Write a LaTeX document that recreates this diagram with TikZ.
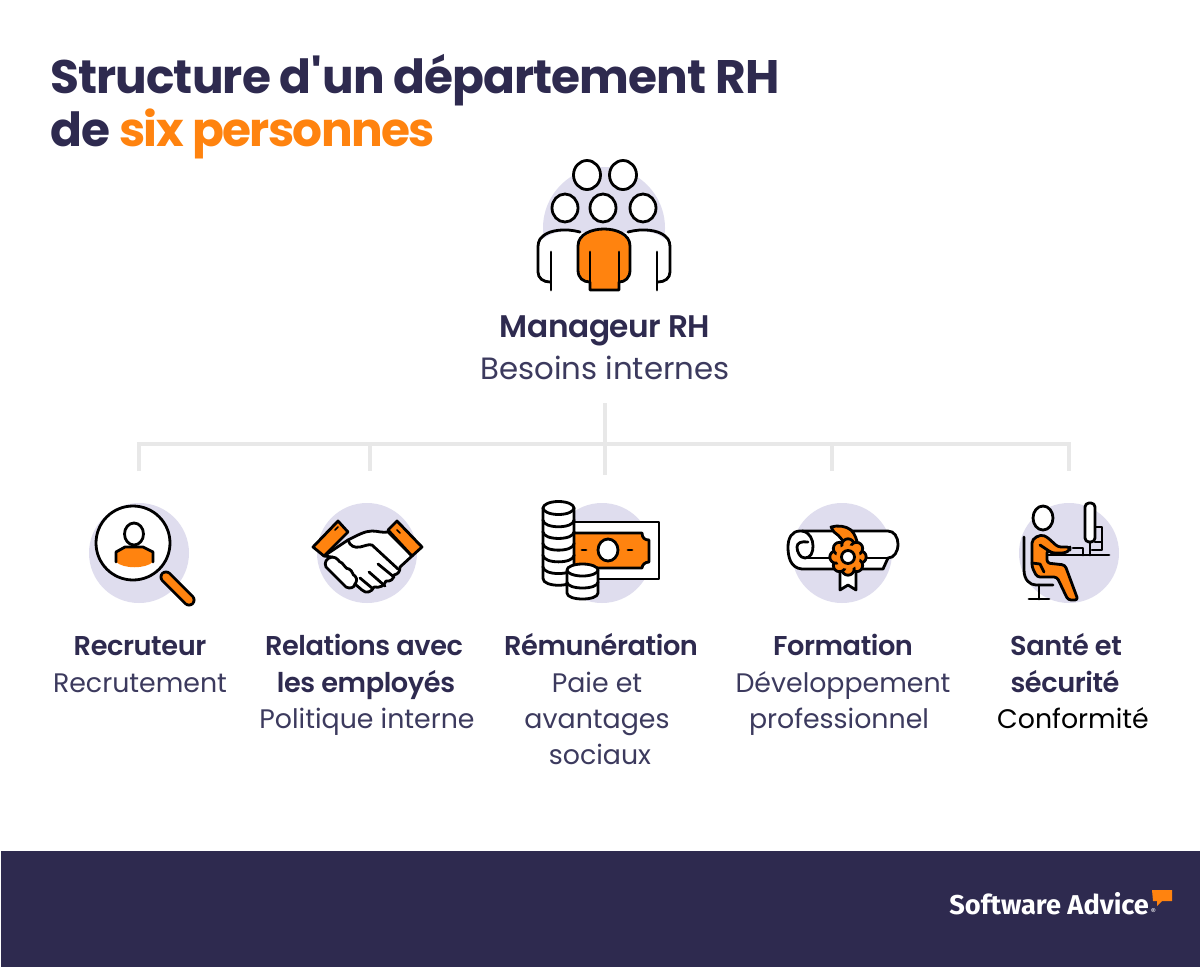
\documentclass[tikz,border=0pt]{standalone}
\usepackage{fontspec}
\setmainfont{Poppins}
\newfontfamily\titlefont{Poppins}[LetterSpace=-2]
\newfontfamily\namefont{Poppins SemiBold}[LetterSpace=-1.5]
\newfontfamily\logofont{Fira Sans}
\usepackage{tikz}
\usetikzlibrary{positioning}
\definecolor{navy}{HTML}{2E2A4F}
\definecolor{bodytext}{HTML}{3C3A5E}
\definecolor{brandorange}{HTML}{FF830F}
\definecolor{lavender}{HTML}{DFDDEE}
\definecolor{treeline}{HTML}{E8E8E8}
\tikzset{
  headline/.style={anchor=base west, inner sep=0pt, text=navy, font=\titlefont\fontsize{23.5}{23.5}\selectfont\bfseries},
  rolename/.style={anchor=base, inner sep=0pt, text=navy, font=\namefont\fontsize{13.6}{13.6}\selectfont},
  roletask/.style={anchor=base, inner sep=0pt, text=bodytext, font=\fontsize{13.4}{13.4}\selectfont},
  branch/.style={draw=treeline, line width=2pt},
  halo/.style={fill=lavender, draw=none},
  ink/.style={draw=black, line width=1.4pt, line join=round, line cap=round},
  inkwhite/.style={ink, fill=white},
  inkorange/.style={ink, fill=brandorange},
}
\begin{document}
\begin{tikzpicture}[x=0.5pt, y=-0.5pt]
  \useasboundingbox (0,0) rectangle (1200,970);
  \fill[white] (0,0) rectangle (1200,970);

  % title
  \node[headline] (title1) at (50,93) {Structure d\textquotesingle un département RH};
  \node[headline] (title2) at (50,146) {de \textcolor{brandorange}{\addfontfeature{LetterSpace=-3.5}six personnes}};

  % tree
  \coordinate (trunktop) at (605,403);
  \coordinate (trunkend) at (605,475);
  \coordinate (rowleft) at (139,443.5);
  \coordinate (rowright) at (1069,443.5);
  \coordinate (dropA) at (139,471);
  \coordinate (topB) at (370,443.5);
  \coordinate (dropB) at (370,471);
  \coordinate (topD) at (832,443.5);
  \coordinate (dropD) at (832,471);
  \coordinate (dropE) at (1069,471);
  \draw[branch] (trunktop) -- (trunkend);
  \draw[branch] (dropA) -- (rowleft) -- (rowright) -- (dropE);
  \draw[branch] (topB) -- (dropB);
  \draw[branch] (topD) -- (dropD);

  % manager icon
  \fill[halo] (604,228) circle (61);
  \draw[inkwhite] (587,175) ellipse (13.5 and 14.5);
  \draw[inkwhite] (623,175) ellipse (13.5 and 14.5);
  \fill[white] (538,250) .. controls (538,236) and (560,226) .. (590,234) -- (590,290) -- (551,290) -- (550,282) -- (538,272) -- cycle;
  \fill[white] (670,250) .. controls (670,236) and (648,226) .. (618,234) -- (618,290) -- (657,290) -- (658,282) -- (670,272) -- cycle;
  \draw[inkwhite] (565,208) ellipse (13 and 14);
  \draw[inkwhite] (603,208) ellipse (13 and 14);
  \draw[inkwhite] (643,208) ellipse (13 and 14);
  \draw[ink] (580,232) .. controls (565,228) and (550,230) .. (543,236) .. controls (538,240) and (538,244) .. (538,250) -- (538,272) .. controls (538,278) and (543,282) .. (550,282);
  \draw[ink] (551,252) -- (551,290);
  \draw[ink] (628,232) .. controls (643,228) and (658,230) .. (665,236) .. controls (670,240) and (670,244) .. (670,250) -- (670,272) .. controls (670,278) and (665,282) .. (658,282);
  \draw[ink] (657,252) -- (657,290);
  \draw[inkorange] (590,290) -- (590,282) .. controls (583,282) and (578,278) .. (578,270) -- (578,246) .. controls (578,234) and (592,229) .. (604,229) .. controls (616,229) and (630,234) .. (630,246) -- (630,270) .. controls (630,278) and (625,282) .. (619,282) -- (619,290) -- cycle;
  \draw[ink] (590,252) -- (590,282);
  \draw[ink] (619,252) -- (619,282);

  % magnifier icon
  \fill[halo] (139,553) circle (50);
  \draw[inkwhite] (133,543) circle (37);
  \draw[ink] (134,534) ellipse (9.5 and 11);
  \fill[brandorange] (116,562) -- (116,552) -- (125,547) -- (143,547) -- (153,552) -- (153,562) .. controls (145,569) and (124,569) .. (116,562) -- cycle;
  \draw[ink] (116,562) -- (116,552) -- (125,547) -- (143,547) -- (153,552) -- (153,562);
  \draw[draw=black, line width=6.5pt, line cap=round] (166,577) -- (189,600);
  \draw[draw=brandorange, line width=3.7pt, line cap=round] (166,577) -- (189,600);

  % handshake icon
  \fill[halo] (367,553) circle (50);
  \draw[inkwhite] (348,540) .. controls (358,535) and (365,531) .. (372,531) .. controls (378,531) and (382,533) .. (388,532) -- (412,556) -- (400,567) .. controls (400,572) and (398,574) .. (394,575) .. controls (394,579) and (390,582) .. (386,581) .. controls (384,586) and (380,588) .. (374,587) .. controls (372,592) and (366,594) .. (362,590) -- (355,584) .. controls (354,588) and (350,589) .. (346,587) -- (326,567) .. controls (324,563) and (326,558) .. (332,557) -- (324,556) -- cycle;
  \draw[ink] (348,540) .. controls (350,546) and (354,548) .. (360,547) .. controls (365,546) and (368,544) .. (372,545) -- (398,569);
  \draw[ink] (378,564) -- (394,577);
  \draw[ink] (369,572) -- (385,586);
  \draw[ink] (360,578) -- (372,588);
  \draw[ink] (332,557) .. controls (338,557) and (338,562) .. (342,563) .. controls (345,565) and (345,569) .. (349,569) .. controls (353,571) and (352,575) .. (355,576) .. controls (358,579) and (356,583) .. (355,584);
  \draw[inkorange] (313,547) -- (338,521) -- (348,532) -- (324,556) -- cycle;
  \draw[inkorange] (388,530) -- (397,521) -- (422,547) -- (412,556) -- cycle;
  \draw[ink, line width=0.8pt] (335,530) -- (338,527);
  \draw[ink, line width=0.8pt] (397,530) -- (400,533);

  % money icon
  \fill[halo] (602,553) circle (50);
  \draw[inkwhite] (573,522) rectangle (659,579);
  \draw[inkorange] (573,533) -- (642,533) .. controls (642,538) and (645,540) .. (649,540) -- (649,562) .. controls (645,562) and (642,565) .. (642,568) -- (573,568) -- cycle;
  \draw[inkwhite] (608,550) ellipse (10 and 11);
  \draw[ink] (582,550) -- (586,550);
  \draw[ink] (628,550) -- (632,550);
  \foreach \lvl in {5,4,3,2,1} {
    \draw[inkwhite] (543,508+\lvl*11.7) -- (543,520+\lvl*11.7) .. controls (543,529+\lvl*11.7) and (574,529+\lvl*11.7) .. (574,520+\lvl*11.7) -- (574,508+\lvl*11.7) -- cycle;
  }
  \draw[inkwhite] (543,508) -- (543,520) .. controls (543,529) and (574,529) .. (574,520) -- (574,508);
  \draw[inkwhite] (558.5,508) ellipse (15.5 and 6.5);
  \draw[inkwhite] (567,582) -- (567,593) .. controls (567,601) and (598,601) .. (598,593) -- (598,582) -- cycle;
  \draw[inkwhite] (567,570) -- (567,582) .. controls (567,590) and (598,590) .. (598,582) -- (598,570) -- cycle;
  \draw[inkwhite] (582.5,570) ellipse (15.5 and 6);

  % diploma icon
  \fill[halo] (842,553) circle (50);
  \draw[inkwhite] (802,569) .. controls (790,568) and (788,556) .. (788,547) .. controls (788,538) and (792,531) .. (800,531) -- (888,531) .. controls (894,531) and (898,537) .. (898,544) .. controls (898,552) and (894,558) .. (888,558) -- (883,569) -- cycle;
  \draw[ink] (808,558) -- (888,558);
  \draw[ink] (802,531) .. controls (810,532) and (813,540) .. (813,546) .. controls (813,552) and (811,558) .. (805,558) .. controls (800,558) and (797,552) .. (797,547) .. controls (797,543) and (801,541) .. (808,542);
  \draw[inkorange] (831,527) .. controls (838,525) and (846,526) .. (851,530) .. controls (855,534) and (857,540) .. (858,546) -- (846,550) .. controls (845,542) and (840,536) .. (834,532) -- cycle;
  \draw[inkwhite] (840,570) -- (840,590) -- (848,585) -- (856,590) -- (856,570) -- cycle;
  \foreach \ang in {0,45,...,315} {
    \draw[inkorange] (848,557) ++(\ang:12) circle (6.2);
  }
  \fill[brandorange] (848,557) circle (12);
  \draw[inkwhite] (848,557) circle (6.5);

  % safety icon
  \fill[halo] (1069,553) circle (50);
  \draw[ink] (1095,527) -- (1102,527) -- (1102,542) -- (1095,542);
  \draw[inkwhite, rounded corners=2pt] (1085,503) rectangle (1095,542);
  \draw[ink] (1090,542) -- (1090,555);
  \draw[ink] (1073,548) -- (1083,548) -- (1083,555);
  \draw[ink] (1092,550) -- (1102,550) -- (1102,542);
  \draw[ink] (1047,555) -- (1109,555);
  \draw[inkwhite] (1043,518) ellipse (10 and 12);
  \draw[inkorange, rounded corners=1.5pt] (1032,546) .. controls (1032,538) and (1040,534) .. (1047,537) -- (1058,547) -- (1070,547) -- (1070,550) -- (1065,553) -- (1052,553) -- (1047,550) -- (1047,563) -- (1065,565) -- (1078,600) -- (1068,600) -- (1057,577) -- (1037,577) -- (1032,567) -- cycle;
  \draw[ink] (1040,545) -- (1052,553);
  \draw[ink] (1032,563) -- (1040,564) -- (1044,572);
  \draw[ink] (1024,537) -- (1024,570) .. controls (1024,580) and (1030,585) .. (1036,585) -- (1053,585);
  \draw[ink] (1039,585) -- (1039,599);
  \draw[ink] (1029,599) -- (1049,599);

  % labels
  \node[rolename] (mgrname) at (605,337) {\fontsize{15.6}{15.6}\selectfont Manageur RH};
  \node[roletask] (mgrtask) at (605,379) {\fontsize{15.4}{15.4}\selectfont Besoins internes};

  \node[rolename] (recname) at (140,655) {Recruteur};
  \node[roletask] (rectask) at (140,692) {Recrutement};

  \node[rolename] (relname1) at (364,655) {Relations avec};
  \node[rolename] (relname2) at (366,692) {les employés};
  \node[roletask] (reltask) at (367,728) {Politique interne};

  \node[rolename] (remname) at (601,655) {Rémunération};
  \node[roletask] (remtask1) at (597,692) {Paie et};
  \node[roletask] (remtask2) at (597,728) {avantages};
  \node[roletask] (remtask3) at (600,764) {sociaux};

  \node[rolename] (forname) at (843,655) {Formation};
  \node[roletask] (fortask1) at (843,692) {Développement};
  \node[roletask] (fortask2) at (839,728) {professionnel};

  \node[rolename] (safname1) at (1066,655) {Santé et};
  \node[rolename] (safname2) at (1065,692) {sécurité};
  \node[roletask, text=black] (saftask) at (1073,728) {Conformité};

  % footer
  \fill[navy] (1,851) rectangle (1200,967);
  \node[anchor=base west, inner sep=0pt, text=white, font=\logofont\fontsize{13.6}{13.6}\selectfont\bfseries] (logo) at (949,914) {Software Advice};
  \node[right=0.5pt of logo.base east, anchor=base west, inner sep=0pt, text=white, font=\logofont\fontsize{4}{4}\selectfont] (logomark) {®};
  \fill[brandorange] (1152,890) -- (1172,890) -- (1172,901) -- (1162,901) -- (1157,906) -- (1157,901) -- (1153,901) -- cycle;
\end{tikzpicture}
\end{document}
